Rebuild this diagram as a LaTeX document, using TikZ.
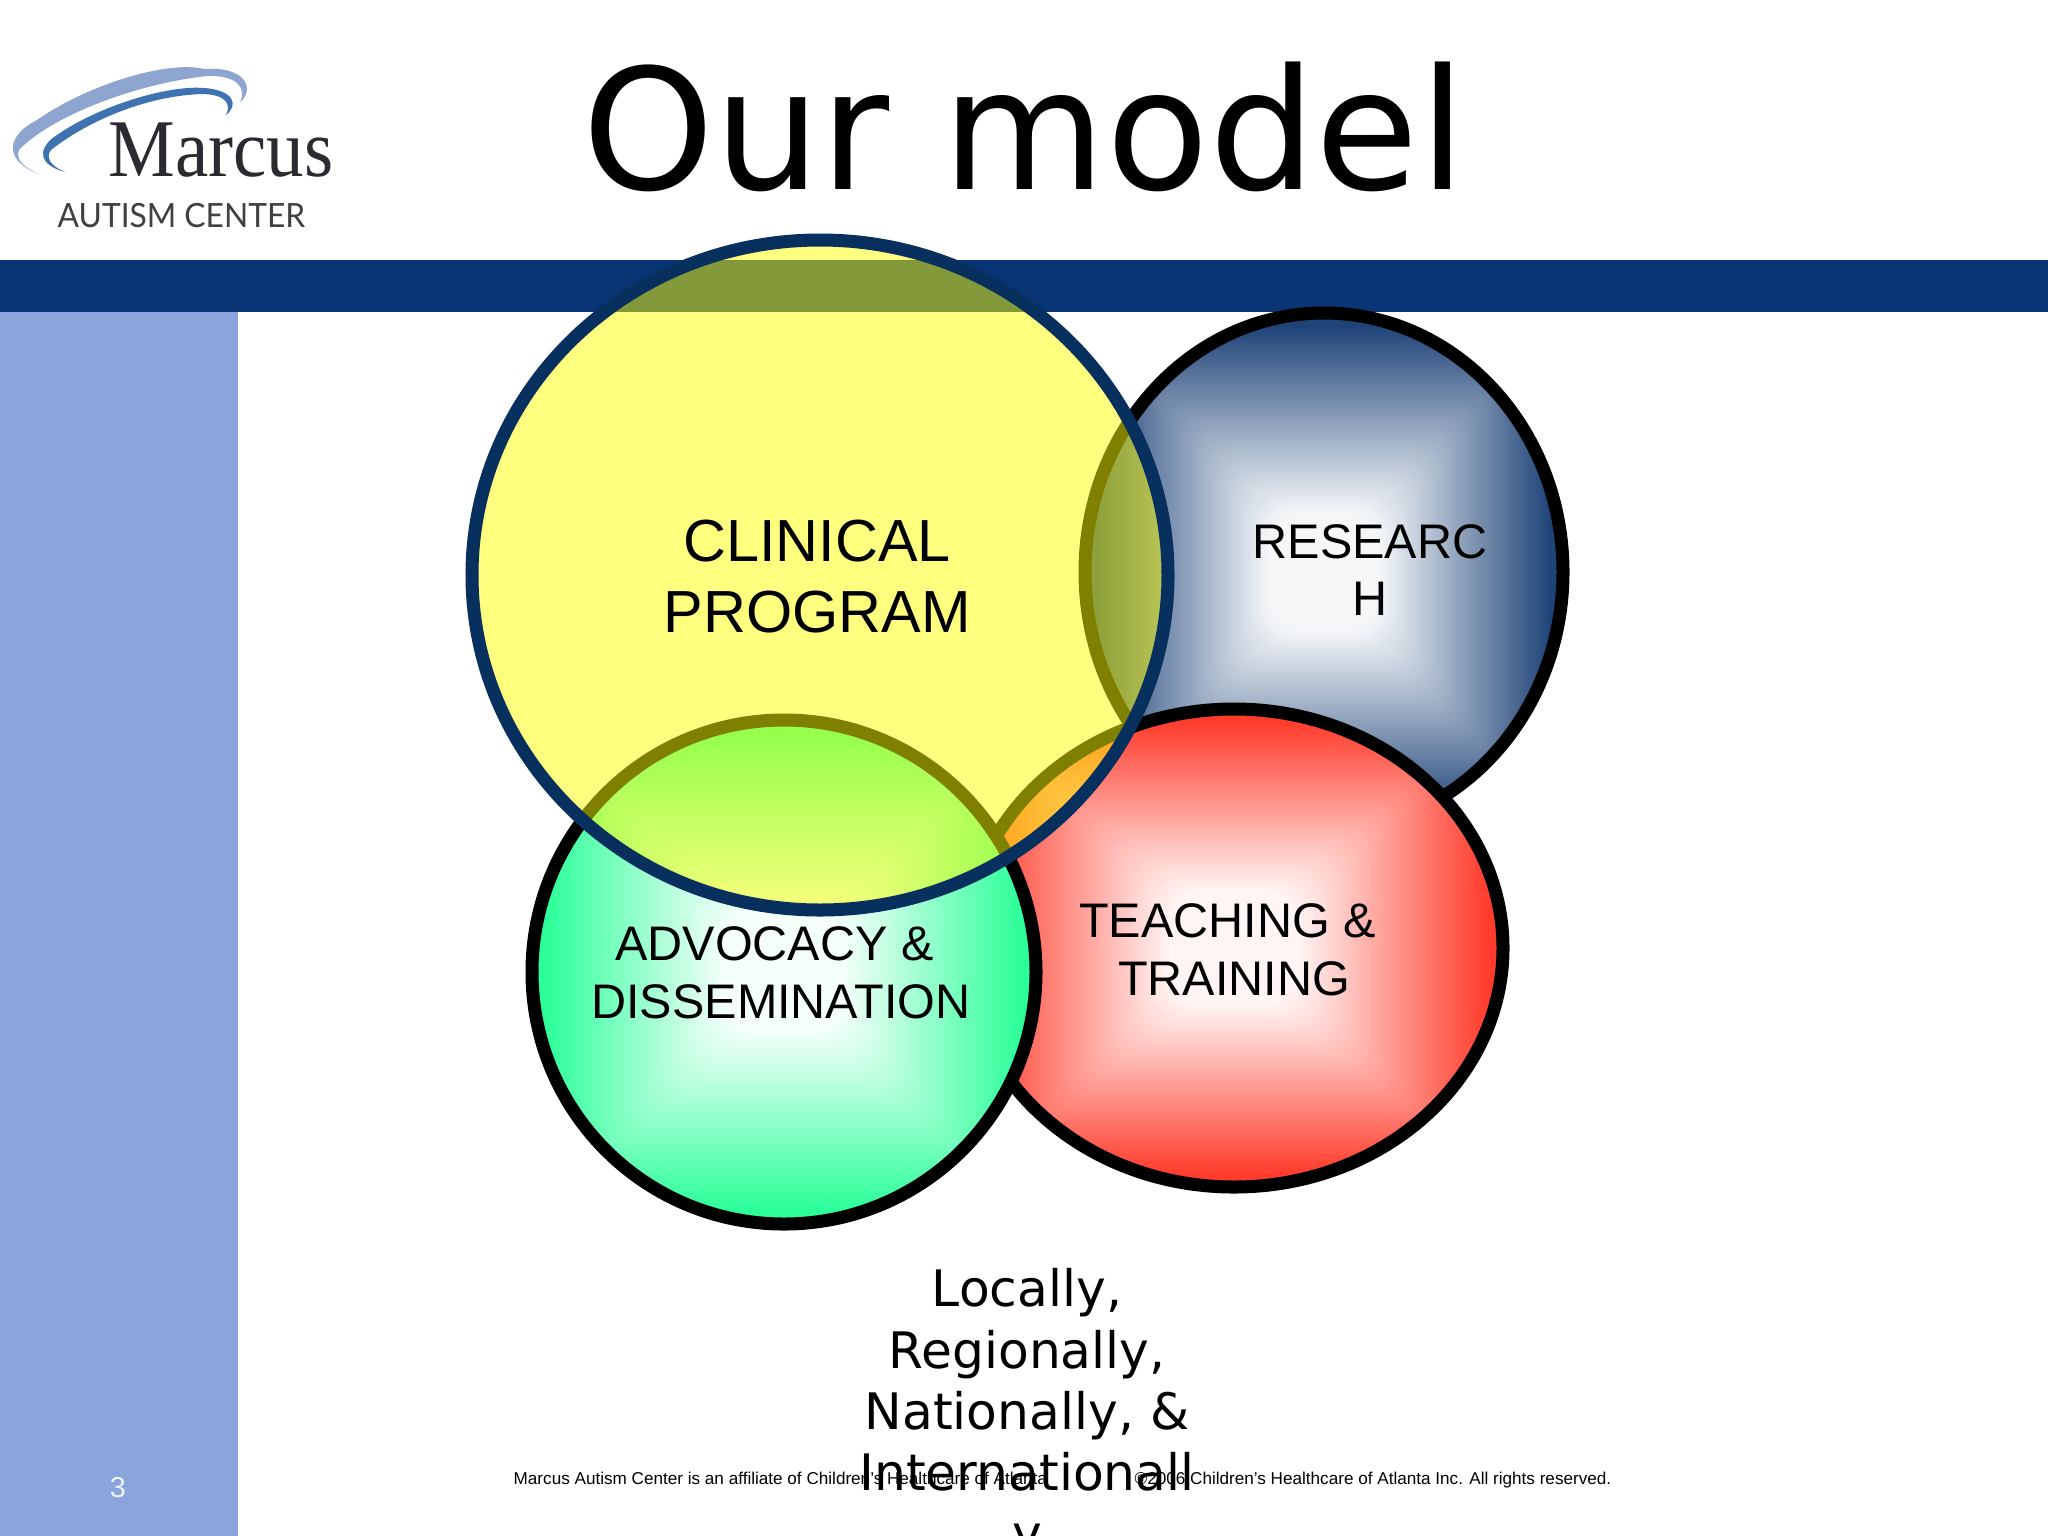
\documentclass[tikz,border=0pt]{standalone}
\usepackage{fontspec}
\setmainfont{Liberation Sans}
\newfontfamily\dejavu{DejaVu Sans}
\newfontfamily\logoserif{Liberation Serif}
\newfontfamily\logosans{Lato}
\definecolor{navybar}{HTML}{0A3575}
\definecolor{sidebar}{HTML}{8AA5DC}
\definecolor{ringnavy}{HTML}{07305F}
\definecolor{cnavy}{HTML}{1F4478}
\definecolor{cred}{HTML}{FF3B2B}
\definecolor{cgreen}{HTML}{2BFF99}
\definecolor{cyellow}{HTML}{FFFF00}
\definecolor{swooshlight}{HTML}{8EA6CF}
\definecolor{swooshdark}{HTML}{3F72B0}
\newcommand{\squaregrad}[5]{%
  \begin{scope}
    \clip (#1,#2) ellipse [x radius=#3, y radius=#4];
    \foreach \st in {100,99,...,0} {
      \pgfmathsetmacro{\tt}{\st/100}
      \pgfmathsetmacro{\pct}{min(100,max(5,(\tt-0.2)/0.75*100))}
      \pgfmathsetmacro{\rc}{14*(1-\tt)}
      \fill[#5!\pct!white, rounded corners=\rc pt] ({#1-\tt*#3-1},{#2-\tt*#4-1}) rectangle ({#1+\tt*#3+1},{#2+\tt*#4+1});
    }
  \end{scope}
  \draw[ring] (#1,#2) ellipse [x radius=#3, y radius=#4];
}
\tikzset{
  ring/.style={draw=black, line width=3.7pt},
  circlelabel/.style={inner sep=0pt, align=center, text=black},
}
\begin{document}
\begin{tikzpicture}[x=0.01cm,y=-0.01cm]
\useasboundingbox (0,0) rectangle (2048,1536);
\clip (0,0) rectangle (2048,1536);
\fill[white] (0,0) rectangle (2048,1536);
% bars
\fill[sidebar] (0,312) rectangle (238,1536);
\fill[navybar] (0,260) rectangle (2048,312);
% logo swooshes
\fill[swooshlight] (39,174) .. controls (2,160) and (7,135) .. (37,120)
  .. controls (87,85) and (167,60) .. (204,69)
  .. controls (247,66) and (255,90) .. (240,102)
  .. controls (247,88) and (237,75) .. (207,76)
  .. controls (127,85) and (47,120) .. (19,150)
  .. controls (15,160) and (25,168) .. (39,174) -- cycle;
\fill[swooshdark] (65,172) .. controls (39,165) and (37,150) .. (54,137)
  .. controls (99,105) and (169,85) .. (204,88)
  .. controls (234,90) and (239,105) .. (226,115)
  .. controls (231,105) and (227,95) .. (204,94)
  .. controls (149,95) and (89,120) .. (51,150)
  .. controls (45,158) and (51,166) .. (65,172) -- cycle;
\node[inner sep=0pt, anchor=base west, text={rgb,255:red,42;green,42;blue,48}, font=\logoserif\fontsize{23.3}{26}\selectfont, xscale=0.915] (marcus) at (108,176) {Marcus};
\node[inner sep=0pt, anchor=base west, text={rgb,255:red,64;green,64;blue,64}, font=\logosans\fontsize{9.5}{11}\selectfont, xscale=0.95] (autism) at (57,227) {AUTISM CENTER};
% title
\node[inner sep=0pt, anchor=base, font=\dejavu\fontsize{47.75}{50}\selectfont] (title) at (1024,189) {Our model};
% circles
\squaregrad{1324}{572}{239}{259}{cnavy}
\squaregrad{1234}{948}{269}{239}{cred}
\squaregrad{784}{972}{252}{252}{cgreen}
\fill[cyellow, fill opacity=0.5] (820,575) ellipse [x radius=348, y radius=335];
\draw[draw=ringnavy, line width=3.7pt] (820,575) ellipse [x radius=348, y radius=335];
% labels
\node[circlelabel, font=\fontsize{16.9}{20.2}\selectfont] (clinical) at (817,577) {CLINICAL\\PROGRAM};
\node[circlelabel, font=\fontsize{13.8}{16.4}\selectfont] (research) at (1370,570) {RESEARC\\H};
\node[circlelabel, font=\fontsize{13.8}{16.4}\selectfont] (teaching) at (1234,950) {TEACHING \&\hspace*{0.27em}\\TRAINING};
\node[circlelabel, font=\fontsize{13.8}{16.4}\selectfont] (advocacy) at (781,973) {ADVOCACY \&\hspace*{0.27em}\\DISSEMINATION};
% lower text
\node[inner sep=0pt, align=center, anchor=north, font=\dejavu\fontsize{14.3}{17.4}\selectfont] (reach) at (1027,1268) {Locally,\\Regionally,\\Nationally, \&\\Internationall\\y};
% footer
\node[inner sep=0pt, anchor=base west, font=\fontsize{4.87}{6}\selectfont] (foot1) at (513,1484) {Marcus Autism Center is an affiliate of Children’s Healthcare of Atlanta};
\node[inner sep=0pt, anchor=base west, font=\fontsize{4.87}{6}\selectfont] (foot2) at (1134,1484) {©2006 Children’s Healthcare of Atlanta Inc. All rights reserved.};
\node[inner sep=0pt, anchor=base, text={rgb,255:red,238;green,242;blue,251}, font=\fontsize{8.2}{10}\selectfont] (pagenum) at (118,1497) {3};
\end{tikzpicture}
\end{document}
